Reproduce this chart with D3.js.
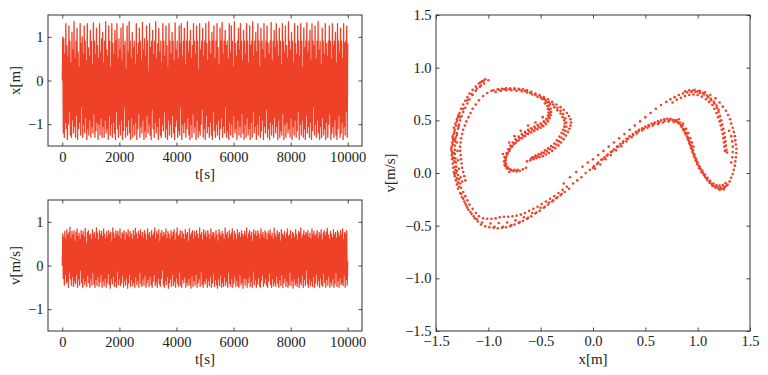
<!DOCTYPE html>
<html>
<head>
<meta charset="utf-8">
<script src="https://d3js.org/d3.v7.min.js"></script>
<style>
  body { margin: 0; background: #fff; }
  svg text { font-family: "Liberation Serif", "Times New Roman", serif; fill: #222; }
</style>
</head>
<body>
<svg id="chart" width="768" height="375"></svg>
<script>
// ---- data ----
const tMax = 10000;
const timeTicks = [0, 2000, 4000, 6000, 8000, 10000];
const seriesTicks = [-1, 0, 1];
const phaseTicks = [-1.5, -1.0, -0.5, 0.0, 0.5, 1.0, 1.5];

// displacement samples x(t)
const xSeries = [
  0, 1.0, -1.2, 0.95, -1.3, 0.6, -0.95, 1.3, -1.1, 0.8, -1.35, 0.55, -1.0, 1.25, -0.7, 0.9, -1.25, 0.4, -1.3, 1.1,
  -0.9, 0.7, -1.2, 1.35, -1.05, 0.5, -1.3, 0.9, -0.8, 1.2, -1.35, 0.65, -1.1, 0.3, -0.95, 1.3, -1.25, 0.85, -0.6, 1.0,
  -1.3, 0.6, -1.0, 1.25, -1.2, 0.9, -0.85, 0.45, -1.35, 1.3, -1.1, 0.75, -1.25, 0.55, -0.9, 1.15, -1.3, 0.9, -1.05, 0.35,
  -1.2, 1.32, -0.75, 0.9, -1.3, 0.6, -1.15, 1.2, -0.95, 0.8, -1.35, 0.5, -1.0, 1.3, -1.25, 0.65, -0.85, 0.95, -1.3, 1.1,
  -1.05, 0.4, -1.3, 0.9, -0.9, 1.35, -1.2, 0.7, -1.1, 0.55, -1.35, 1.25, -0.8, 0.9, -1.25, 0.3, -1.0, 1.3, -1.3, 0.85,
  -0.95, 0.6, -1.2, 1.15, -1.35, 0.9, -0.7, 1.3, -1.1, 0.5, -1.3, 0.95, -1.0, 0.7, -1.25, 1.2, -0.9, 0.45, -1.35, 1.3,
  -1.15, 0.8, -0.6, 0.9, -1.3, 0.25, -1.05, 1.25, -1.25, 0.65, -0.9, 1.35, -1.2, 0.9, -1.35, 0.5, -0.85, 1.1, -1.3, 0.75,
  -1.0, 0.9, -1.25, 0.35, -0.95, 1.3, -1.35, 0.6, -1.1, 0.85, -0.75, 1.2, -1.3, 0.9, -1.05, 0.45, -1.2, 1.33, -0.9, 0.7,
  -1.35, 0.95, -1.15, 0.55, -1.3, 1.25, -0.8, 0.9, -1.2, 0.2, -1.0, 1.3, -1.25, 0.75, -1.35, 0.9, -0.65, 1.15, -1.1, 0.6,
  -1.3, 0.9, -0.95, 1.35, -1.2, 0.5, -1.05, 0.85, -1.35, 1.2, -0.85, 0.65, -1.25, 0.9, -1.3, 0.4, -1.0, 1.3, -1.15, 0.9,
  -0.7, 0.55, -1.3, 1.25, -1.1, 0.8, -1.35, 0.3, -0.9, 1.3, -1.25, 0.9, -1.0, 0.6, -1.3, 1.1, -0.8, 0.9, -1.2, 0.45,
  -1.35, 1.32, -1.05, 0.7, -0.9, 0.9, -1.3, 0.5, -1.15, 1.25, -1.25, 0.85, -0.6, 1.3, -1.35, 0.55, -1.0, 0.9, -1.2, 1.2,
  -0.95, 0.35, -1.3, 0.9, -1.1, 1.35, -0.85, 0.65, -1.25, 0.9, -1.35, 1.15, -1.0, 0.5, -1.3, 0.8, -0.75, 1.3, -1.2, 0.9,
  -1.05, 0.6, -1.35, 1.25, -0.9, 0.9, -1.3, 0.25, -1.15, 1.3, -1.25, 0.7, -1.0, 0.9, -0.65, 1.2, -1.3, 0.55, -1.1, 0.9,
  -1.35, 1.3, -0.8, 0.85, -1.2, 0.45, -1.05, 1.35, -1.3, 0.9, -0.95, 0.6, -1.25, 1.1, -1.35, 0.9, -0.7, 1.25, -1.15, 0.5,
  -1.3, 0.9, -1.0, 1.3, -1.25, 0.75, -0.9, 0.35, -1.35, 1.2, -1.1, 0.9, -0.85, 1.33, -1.3, 0.6, -1.05, 0.9, -1.2, 1.15,
  -0.6, 0.8, -1.3, 0.9, -1.15, 0.5, -1.35, 1.3, -0.95, 0.65, -1.25, 1.25, -1.0, 0.9, -1.3, 0.3, -0.8, 1.35, -1.2, 0.85,
  -1.1, 0.55, -1.35, 0.9, -0.9, 1.2, -1.25, 0.7, -1.05, 1.3, -1.3, 0.9, -0.75, 0.45, -1.2, 1.15, -1.35, 0.9, -1.0, 0.6,
  -1.3, 1.3, -0.85, 0.9, -1.25, 0.4, -1.1, 1.25, -1.35, 0.8, -0.95, 0.9, -1.3, 1.35, -0.7, 0.55, -1.2, 0.9, -1.05, 1.1,
  -1.35, 0.65, -1.0, 1.3, -1.25, 0.9, -0.8, 0.3, -1.3, 1.2, -1.15, 0.9, -0.9, 0.7, -1.35, 1.3, -1.05, 0.5, -1.2, 0.9,
  -0.65, 1.25, -1.3, 0.85, -1.1, 0.6, -1.35, 0.9, -0.95, 1.33, -1.25, 0.45, -1.0, 0.9, -1.3, 1.15, -0.85, 0.75, -1.2, 1.3,
  -1.05, 0.9, -1.35, 0.55, -0.9, 1.2, -1.3, 0.9, -1.15, 0.35, -1.25, 1.3, -0.75, 0.9, -1.35, 0.65, -1.0, 1.25, -1.3, 0.8,
  -0.95, 0.5, -1.2, 1.35, -1.1, 0.9, -1.3, 0.7, -0.85, 1.1, -1.35, 0.9, -1.05, 0.4, -1.25, 1.3, -0.9, 0.85, -1.3, 0.6,
  -1.15, 1.25, -0.7, 0.9, -1.35, 0.55, -1.0, 1.3, -1.25, 0.9, -0.9, 0.3, -1.3, 1.2, -1.1, 0.75, -1.35, 0.9, -0.8, 1.32,
  -1.2, 0.65, -1.05, 0.9, -1.3, 1.15, -0.95, 0.45, -1.35, 1.3, -1.15, 0.9, -0.6, 0.8, -1.25, 1.25, -1.0, 0.5, -1.3, 0.9,
  -0.9, 1.35, -1.2, 0.7, -1.35, 0.9, -1.05, 0.35, -1.3, 1.2, -0.85, 0.9, -1.25, 0.6, -1.1, 1.3, -1.35, 0.85, -0.95, 0.55,
  -1.3, 0.9, -1.0, 1.25, -0.75, 0.9, -1.35, 0.5, -1.2, 1.3, -1.05, 0.8, -1.3, 0.9, -0.9, 1.1, -1.25, 0.4, -1.35, 1.3,
  -1.1, 0.9, -0.8, 0.65, -1.3, 1.2, -1.2, 0.9, -0.95, 0.5, -1.35, 1.3, -1.05, 0.85, -1.25, 0.9, -0.7, 1.25, -1.3, 0.85
];

// velocity samples v(t)
const vSeries = [
  0, 0.72, -0.3, 0.65, -0.45, 0.78, -0.2, 0.6, -0.4, 0.82, -0.35, 0.7, -0.5, 0.75, -0.15, 0.88, -0.3, 0.62, -0.45, 0.78,
  -0.25, 0.7, -0.48, 0.8, -0.35, 0.55, -0.42, 0.76, -0.2, 0.84, -0.5, 0.66, -0.3, 0.74, -0.45, 0.6, -0.1, 0.8, -0.4, 0.7,
  -0.5, 0.78, -0.28, 0.65, -0.44, 0.85, -0.35, 0.5, -0.48, 0.75, -0.22, 0.8, -0.4, 0.68, -0.5, 0.72, -0.3, 0.6, -0.45, 0.82,
  -0.15, 0.7, -0.42, 0.76, -0.5, 0.62, -0.32, 0.86, -0.45, 0.74, -0.25, 0.58, -0.48, 0.8, -0.38, 0.7, -0.2, 0.78, -0.5, 0.66,
  -0.35, 0.84, -0.46, 0.72, -0.28, 0.6, -0.5, 0.78, -0.4, 0.65, -0.18, 0.8, -0.44, 0.7, -0.52, 0.76, -0.3, 0.55, -0.42, 0.86,
  -0.25, 0.74, -0.48, 0.62, -0.36, 0.8, -0.5, 0.7, -0.12, 0.78, -0.44, 0.66, -0.3, 0.84, -0.46, 0.6, -0.4, 0.75, -0.22, 0.72,
  -0.5, 0.8, -0.34, 0.58, -0.45, 0.76, -0.28, 0.7, -0.52, 0.82, -0.4, 0.64, -0.2, 0.78, -0.48, 0.72, -0.32, 0.6, -0.46, 0.8,
  -0.38, 0.68, -0.5, 0.85, -0.26, 0.74, -0.44, 0.6, -0.35, 0.78, -0.5, 0.7, -0.15, 0.82, -0.42, 0.66, -0.48, 0.76, -0.3, 0.62,
  -0.45, 0.8, -0.22, 0.72, -0.5, 0.58, -0.4, 0.84, -0.32, 0.7, -0.48, 0.76, -0.25, 0.64, -0.44, 0.8, -0.5, 0.68, -0.36, 0.74,
  -0.2, 0.86, -0.46, 0.6, -0.38, 0.78, -0.5, 0.7, -0.28, 0.82, -0.42, 0.55, -0.48, 0.74, -0.3, 0.8, -0.1, 0.66, -0.45, 0.76,
  -0.5, 0.7, -0.34, 0.84, -0.44, 0.62, -0.25, 0.78, -0.52, 0.72, -0.4, 0.6, -0.3, 0.8, -0.48, 0.68, -0.2, 0.76, -0.46, 0.82,
  -0.36, 0.58, -0.5, 0.74, -0.28, 0.86, -0.42, 0.66, -0.48, 0.7, -0.15, 0.8, -0.45, 0.62, -0.5, 0.78, -0.32, 0.72, -0.4, 0.6,
  -0.26, 0.82, -0.5, 0.7, -0.38, 0.76, -0.46, 0.55, -0.3, 0.84, -0.44, 0.68, -0.52, 0.74, -0.22, 0.8, -0.48, 0.6, -0.35, 0.78,
  -0.45, 0.66, -0.2, 0.8, -0.5, 0.72, -0.4, 0.62, -0.3, 0.86, -0.48, 0.7, -0.12, 0.76, -0.44, 0.58, -0.5, 0.82, -0.36, 0.7,
  -0.42, 0.78, -0.28, 0.64, -0.5, 0.8, -0.34, 0.72, -0.46, 0.6, -0.25, 0.84, -0.5, 0.68, -0.4, 0.76, -0.18, 0.74, -0.48, 0.62,
  -0.32, 0.8, -0.44, 0.7, -0.52, 0.56, -0.3, 0.82, -0.46, 0.74, -0.22, 0.66, -0.5, 0.78, -0.38, 0.72, -0.48, 0.6, -0.26, 0.86,
  -0.45, 0.7, -0.36, 0.76, -0.5, 0.62, -0.15, 0.8, -0.42, 0.68, -0.48, 0.74, -0.3, 0.84, -0.5, 0.58, -0.4, 0.78, -0.24, 0.72,
  -0.48, 0.6, -0.34, 0.82, -0.46, 0.7, -0.5, 0.76, -0.2, 0.64, -0.44, 0.8, -0.38, 0.72, -0.52, 0.66, -0.28, 0.78, -0.45, 0.7,
  -0.3, 0.86, -0.5, 0.62, -0.4, 0.74, -0.25, 0.8, -0.48, 0.68, -0.36, 0.76, -0.5, 0.55, -0.12, 0.82, -0.44, 0.7, -0.32, 0.78,
  -0.5, 0.66, -0.42, 0.8, -0.28, 0.72, -0.46, 0.6, -0.5, 0.84, -0.34, 0.7, -0.22, 0.76, -0.48, 0.62, -0.4, 0.8, -0.3, 0.74,
  -0.45, 0.58, -0.5, 0.78, -0.35, 0.7, -0.18, 0.82, -0.44, 0.66, -0.5, 0.74, -0.3, 0.6, -0.46, 0.86, -0.38, 0.72, -0.48, 0.64,
  -0.25, 0.8, -0.42, 0.7, -0.5, 0.76, -0.32, 0.56, -0.46, 0.82, -0.2, 0.72, -0.5, 0.68, -0.4, 0.78, -0.28, 0.62, -0.48, 0.74,
  -0.36, 0.84, -0.5, 0.66, -0.44, 0.7, -0.15, 0.8, -0.46, 0.6, -0.34, 0.76, -0.52, 0.72, -0.3, 0.64, -0.45, 0.82, -0.4, 0.7,
  -0.48, 0.58, -0.26, 0.78, -0.5, 0.74, -0.38, 0.86, -0.44, 0.62, -0.22, 0.7, -0.5, 0.8, -0.32, 0.68, -0.46, 0.76, -0.1, 0.72,
  -0.42, 0.8, -0.5, 0.64, -0.3, 0.74, -0.46, 0.6, -0.36, 0.84, -0.48, 0.7, -0.25, 0.78, -0.5, 0.66, -0.4, 0.72, -0.2, 0.8,
  -0.46, 0.62, -0.34, 0.76, -0.5, 0.7, -0.28, 0.82, -0.44, 0.58, -0.48, 0.74, -0.18, 0.8, -0.4, 0.68, -0.5, 0.76, -0.32, 0.85,
  -0.45, 0.7, -0.24, 0.6, -0.5, 0.78, -0.38, 0.72, -0.46, 0.64, -0.3, 0.82, -0.5, 0.7, -0.42, 0.76, -0.15, 0.62, -0.48, 0.8,
  -0.35, 0.74, -0.5, 0.66, -0.28, 0.8, -0.44, 0.7, -0.4, 0.84, -0.46, 0.6, -0.22, 0.76, -0.5, 0.72, -0.32, 0.8, -0.45, 0.1
];

// phase portrait points [x, v], grouped by region of the attractor
const leftLobe = [
  [-1.03,0.89],[-1.06,0.87],[-1.09,0.85],[-1.12,0.82],[-1.15,0.79],[-1.18,0.755],[-1.20,0.72],[-1.22,0.685],[-1.24,0.65],[-1.26,0.61],
  [-1.275,0.57],[-1.29,0.53],[-1.30,0.49],[-1.31,0.45],[-1.32,0.41],[-1.33,0.37],[-1.34,0.33],[-1.345,0.29],[-1.35,0.25],[-1.35,0.21],
  [-1.35,0.17],[-1.345,0.13],[-1.34,0.09],[-1.335,0.05],[-1.33,0.01],[-1.32,-0.03],[-1.31,-0.07],[-1.30,-0.11],
  [-1.04,0.85],[-1.08,0.82],[-1.12,0.78],[-1.15,0.74],[-1.18,0.70],[-1.20,0.66],[-1.22,0.62],[-1.24,0.58],[-1.255,0.54],[-1.27,0.50],
  [-1.28,0.46],[-1.29,0.42],[-1.30,0.38],[-1.31,0.34],[-1.315,0.30],[-1.32,0.26],[-1.32,0.22],[-1.32,0.18],[-1.315,0.14],[-1.31,0.10],
  [-1.305,0.06],[-1.30,0.02],[-1.29,-0.02],[-1.28,-0.06],[-1.27,-0.10],[-1.26,-0.14],
  [-0.97,0.78],[-1.01,0.76],[-1.05,0.73],[-1.09,0.69],[-1.12,0.65],[-1.15,0.61],[-1.17,0.57],[-1.19,0.53],[-1.21,0.49],[-1.225,0.45],
  [-1.24,0.41],[-1.25,0.37],[-1.26,0.33],[-1.265,0.29],[-1.27,0.25],[-1.27,0.21],[-1.265,0.17],[-1.26,0.13],[-1.255,0.09],[-1.25,0.05],
  [-1.24,0.01],[-1.23,-0.03],[-1.22,-0.07],
  [-1.33,0.43],[-1.34,0.27],[-1.33,0.19],[-1.325,0.11],[-1.34,0.35],[-1.32,0.06],[-1.31,0.0],
  [-1.355,0.23],[-1.345,0.19],[-1.34,0.15],[-1.335,0.31],[-1.325,0.39],[-1.315,0.47],[-1.30,0.51],[-1.285,0.55],[-1.325,-0.01],[-1.315,0.03],
  [-1.30,-0.05],[-1.29,-0.09],[-1.28,-0.13],[-1.33,0.14],[-1.32,0.32],[-1.30,0.29],[-1.295,0.21],[-1.29,0.12],[-1.28,0.04],[-1.265,-0.04],
  [-1.25,-0.08],[-1.30,0.36],[-1.285,0.44],[-1.27,0.53],[-1.24,0.61],[-1.20,0.69],[-1.16,0.75],[-1.11,0.80],[-1.07,0.83],
  [-1.0,0.88],[-1.045,0.875],[-1.075,0.86]
];

const bottomArc = [
  [-1.29,-0.15],[-1.27,-0.19],[-1.25,-0.23],[-1.23,-0.27],[-1.21,-0.31],[-1.19,-0.35],[-1.16,-0.39],[-1.13,-0.43],[-1.10,-0.46],[-1.07,-0.49],
  [-1.03,-0.505],[-0.99,-0.515],[-0.95,-0.52],[-0.91,-0.525],[-0.87,-0.52],[-0.83,-0.515],[-0.79,-0.505],[-0.75,-0.49],[-0.71,-0.475],[-0.67,-0.455],
  [-0.63,-0.435],[-0.59,-0.41],[-0.55,-0.385],[-0.51,-0.36],[-0.47,-0.33],[-0.43,-0.30],[-0.39,-0.27],[-0.35,-0.24],[-0.31,-0.21],[-0.27,-0.18],[-0.23,-0.15],
  [-1.24,-0.18],[-1.22,-0.22],[-1.20,-0.26],[-1.18,-0.30],[-1.15,-0.34],[-1.12,-0.38],[-1.09,-0.41],[-1.05,-0.43],[-1.01,-0.435],[-0.97,-0.435],
  [-0.93,-0.43],[-0.89,-0.42],[-0.85,-0.415],[-0.81,-0.415],[-0.77,-0.41],[-0.73,-0.405],[-0.69,-0.395],[-0.65,-0.38],[-0.61,-0.36],[-0.57,-0.34],
  [-0.53,-0.32],[-0.49,-0.295],[-0.45,-0.27],[-0.41,-0.245],[-0.37,-0.22],[-0.33,-0.19],[-0.29,-0.16],[-0.25,-0.13],
  [-1.06,-0.47],[-0.98,-0.48],[-0.90,-0.475],[-0.82,-0.47],[-0.74,-0.45],[-0.66,-0.42],[-0.58,-0.38],[-0.50,-0.33],[-0.42,-0.28],[-0.34,-0.23],
  [-1.26,-0.20],[-1.24,-0.245],[-1.22,-0.29],[-1.20,-0.33],[-1.17,-0.37],[-1.14,-0.41],[-1.11,-0.44],[-0.94,-0.51],[-0.86,-0.51],[-0.78,-0.495],
  [-0.70,-0.465],[-0.62,-0.425],[-0.54,-0.375],[-0.46,-0.32],[-0.38,-0.26],[-0.30,-0.20]
];

const diagonal = [
  [-0.19,-0.10],[-0.15,-0.07],[-0.11,-0.04],[-0.07,0.0],[-0.03,0.03],[0.01,0.065],[0.05,0.10],[0.08,0.125],[0.11,0.15],[0.14,0.175],
  [0.17,0.20],[0.20,0.225],[0.23,0.25],[0.26,0.275],[0.29,0.30],[0.32,0.325],[0.35,0.35],[0.38,0.37],[0.41,0.39],[0.44,0.41],
  [0.47,0.425],[0.50,0.44],[0.53,0.455],[0.56,0.47],[0.59,0.48],[0.62,0.49],[0.65,0.50],[0.68,0.51],[0.71,0.515],[0.74,0.515],
  [0.02,0.04],[0.07,0.08],[0.12,0.13],[0.17,0.17],[0.22,0.215],[0.27,0.255],[0.32,0.30],[0.37,0.34],[0.42,0.375],[0.47,0.405],
  [0.52,0.43],[0.57,0.45],[0.62,0.465],[0.67,0.48],[0.72,0.49],[0.77,0.485],
  [0.0,0.05],[0.04,0.085],[0.09,0.13],[0.135,0.165],[0.185,0.205],[0.24,0.25],[0.285,0.285],[0.335,0.325],[0.385,0.36],[0.435,0.395],
  [0.485,0.42],[0.535,0.445],[0.585,0.465],[0.635,0.48],[0.685,0.495],[0.73,0.50],[0.76,0.505],
  [-0.28,-0.10],[-0.22,-0.04],[-0.16,0.01],[-0.10,0.06],[-0.05,0.10],[0.0,0.13],[0.05,0.17],[0.10,0.21],[0.15,0.25],[0.20,0.29],
  [0.25,0.33],[0.30,0.37],[0.35,0.41],[0.40,0.45],[0.45,0.49],[0.50,0.53],[0.55,0.57],[0.60,0.61],[0.65,0.645],[0.70,0.675]
];

const rightLobe = [
  [0.78,0.50],[0.81,0.48],[0.84,0.455],[0.86,0.42],[0.88,0.385],[0.90,0.345],[0.915,0.305],[0.93,0.265],[0.945,0.225],[0.96,0.185],
  [0.975,0.145],[0.99,0.11],[1.01,0.07],[1.03,0.035],[1.05,0.0],[1.07,-0.035],[1.09,-0.065],[1.115,-0.095],[1.14,-0.12],[1.17,-0.14],
  [1.20,-0.15],[1.23,-0.15],[1.26,-0.135],[1.285,-0.11],[1.305,-0.08],[1.32,-0.045],[1.335,-0.01],[1.345,0.03],[1.355,0.07],[1.36,0.11],
  [1.365,0.15],[1.37,0.19],[1.37,0.23],[1.365,0.27],[1.36,0.31],[1.355,0.35],[1.345,0.39],[1.335,0.43],
  [0.80,0.50],[0.83,0.48],[0.855,0.45],[0.875,0.415],[0.895,0.375],[0.91,0.335],[0.925,0.295],[0.94,0.255],[0.955,0.215],[0.97,0.175],
  [0.985,0.135],[1.0,0.10],[1.02,0.06],[1.045,0.02],[1.07,-0.015],[1.095,-0.045],[1.12,-0.075],[1.15,-0.10],[1.18,-0.115],[1.21,-0.12],
  [1.24,-0.115],[1.265,-0.095],
  [0.82,0.51],[0.86,0.47],[0.89,0.42],[0.91,0.38],[0.93,0.33],[0.945,0.29],[0.96,0.25],
  [0.79,0.49],[0.82,0.47],[0.845,0.44],[0.865,0.405],[0.885,0.365],[0.905,0.32],[0.92,0.28],[0.935,0.24],[0.95,0.20],[0.965,0.16],
  [0.98,0.12],[0.995,0.085],[1.015,0.045],[1.035,0.01],[1.06,-0.02],[1.085,-0.05],[1.11,-0.08],[1.135,-0.105],[1.16,-0.125],[1.19,-0.135],
  [1.22,-0.14],[1.25,-0.13],[1.275,-0.12],[1.25,-0.155],[1.21,-0.16],
  [0.74,0.70],[0.78,0.72],[0.82,0.74],[0.86,0.755],[0.90,0.765],[0.94,0.77],[0.98,0.77],[1.02,0.76],[1.06,0.745],[1.10,0.72],
  [1.13,0.69],[1.16,0.66],[1.185,0.62],[1.20,0.58],[1.215,0.54],[1.225,0.50],[1.235,0.46],[1.245,0.42],[1.255,0.38],[1.26,0.34],
  [1.265,0.30],[1.27,0.26],[1.275,0.22],[1.28,0.195],
  [0.76,0.67],[0.80,0.695],[0.84,0.715],[0.88,0.73],[0.92,0.74],[0.96,0.745],[1.00,0.74],[1.04,0.725],[1.08,0.70],[1.11,0.675],
  [1.14,0.645],[1.16,0.61],[1.18,0.57],[1.195,0.53],[1.21,0.49],[1.22,0.45],[1.23,0.41],[1.24,0.37],[1.245,0.33],[1.25,0.29],
  [1.255,0.25],[1.26,0.21],
  [0.92,0.785],[0.97,0.79],[1.02,0.78],[1.07,0.765],[1.12,0.74],[1.17,0.71],[1.21,0.67],[1.24,0.63],[1.27,0.59],[1.29,0.55],
  [1.31,0.51],[1.32,0.47],
  [0.88,0.775],[0.95,0.78],[1.0,0.775],[1.05,0.76],[1.09,0.735],[1.125,0.705],[1.155,0.675],[1.18,0.64],[1.20,0.60],[1.30,0.40],
  [1.32,0.35],[1.33,0.30],[1.335,0.25],[1.335,0.20],[1.33,0.15],[1.32,0.10]
];

const topArc = [
  [-0.95,0.785],[-0.91,0.795],[-0.87,0.80],[-0.83,0.805],[-0.79,0.805],[-0.75,0.805],[-0.71,0.80],[-0.67,0.795],[-0.63,0.785],[-0.59,0.77],
  [-0.55,0.755],[-0.51,0.74],[-0.47,0.72],[-0.43,0.70],[-0.39,0.675],[-0.35,0.65],[-0.31,0.625],[-0.28,0.60],[-0.25,0.57],[-0.23,0.54],
  [-0.215,0.51],[-0.21,0.48],[-0.215,0.45],[-0.225,0.42],[-0.24,0.39],[-0.26,0.355],[-0.28,0.32],[-0.305,0.29],[-0.33,0.26],[-0.36,0.235],
  [-0.39,0.21],[-0.42,0.19],[-0.45,0.175],[-0.48,0.16],[-0.51,0.15],[-0.54,0.14],[-0.57,0.13],[-0.60,0.12],[-0.63,0.11],
  [-0.93,0.77],[-0.88,0.78],[-0.83,0.785],[-0.78,0.785],[-0.73,0.78],[-0.68,0.775],[-0.63,0.765],[-0.58,0.745],[-0.53,0.725],[-0.49,0.705],
  [-0.45,0.68],[-0.41,0.655],[-0.37,0.625],[-0.34,0.595],[-0.31,0.565],[-0.29,0.53],[-0.275,0.50],[-0.27,0.47],[-0.275,0.44],[-0.285,0.41],
  [-0.30,0.38],[-0.32,0.345],[-0.345,0.31],[-0.37,0.28],[-0.40,0.255],[-0.43,0.235],[-0.46,0.215],[-0.49,0.195],[-0.52,0.18],[-0.55,0.165],[-0.58,0.15],
  [-0.90,0.79],[-0.85,0.795],[-0.80,0.795],[-0.75,0.795],[-0.70,0.79],[-0.65,0.78],[-0.60,0.76],[-0.55,0.74],[-0.50,0.72],[-0.46,0.70],
  [-0.42,0.675],[-0.38,0.65],[-0.34,0.62],[-0.31,0.59],[-0.285,0.56],[-0.265,0.52],[-0.255,0.48],[-0.255,0.44],[-0.265,0.40],[-0.28,0.37],
  [-0.30,0.335],[-0.325,0.30],[-0.35,0.27],[-0.38,0.245],[-0.41,0.225],[-0.44,0.205],[-0.47,0.19],[-0.50,0.175],[-0.53,0.16],[-0.56,0.15],[-0.59,0.14]
];

const innerHook = [
  [-0.47,0.70],[-0.44,0.67],[-0.42,0.64],[-0.405,0.61],[-0.40,0.58],[-0.405,0.55],[-0.415,0.52],[-0.43,0.49],[-0.45,0.465],[-0.475,0.445],
  [-0.50,0.43],[-0.53,0.415],[-0.56,0.40],[-0.59,0.385],[-0.62,0.37],[-0.65,0.35],[-0.68,0.33],[-0.71,0.31],[-0.74,0.285],[-0.77,0.255],
  [-0.795,0.225],[-0.815,0.19],[-0.83,0.155],[-0.835,0.12],[-0.83,0.085],[-0.815,0.055],[-0.79,0.035],[-0.76,0.02],[-0.73,0.015],[-0.70,0.02],
  [-0.43,0.61],[-0.425,0.575],[-0.43,0.545],[-0.445,0.515],[-0.47,0.49],[-0.50,0.47],[-0.53,0.455],[-0.56,0.44],[-0.59,0.425],[-0.62,0.41],
  [-0.65,0.39],[-0.68,0.37],[-0.71,0.345],[-0.74,0.32],[-0.765,0.29],[-0.79,0.26],[-0.81,0.225],[-0.825,0.19],[-0.845,0.15],[-0.85,0.11],
  [-0.845,0.075],[-0.825,0.045],
  [-0.48,0.53],[-0.55,0.48],[-0.62,0.45],[-0.69,0.40],[-0.75,0.35],[-0.80,0.29],[-0.86,0.18],[-0.80,0.01],[-0.67,0.035],[-0.64,0.05],
  [-0.46,0.66],[-0.435,0.635],[-0.42,0.60],[-0.415,0.565],[-0.42,0.535],[-0.44,0.505],[-0.46,0.48],[-0.49,0.455],[-0.52,0.44],[-0.55,0.425],
  [-0.58,0.41],[-0.61,0.395],[-0.64,0.375],[-0.67,0.355],[-0.70,0.33],[-0.73,0.305],[-0.755,0.275],[-0.78,0.245],[-0.80,0.21],[-0.82,0.175],
  [-0.835,0.14],[-0.84,0.10],[-0.835,0.065],[-0.81,0.04],[-0.78,0.025],[-0.75,0.03],[-0.72,0.03]
];

// ---- drawing ----
const red = "#ee4127";
const svg = d3.select("#chart");

function frame(g, x, y, xt, yt, xf, yf, labelDy) {
  const w = x.range()[1] - x.range()[0];
  const h = y.range()[0] - y.range()[1];
  const tick = 3.5;

  g.append("g").attr("transform", `translate(0,${h})`)
    .call(d3.axisBottom(x).tickValues(xt).tickFormat(xf).tickSizeInner(-tick).tickSizeOuter(0).tickPadding(labelDy));
  g.append("g")
    .call(d3.axisLeft(y).tickValues(yt).tickFormat(yf).tickSizeInner(-tick).tickSizeOuter(0).tickPadding(4.5));
  g.append("g")
    .call(d3.axisTop(x).tickValues(xt).tickFormat("").tickSizeInner(-tick).tickSizeOuter(0));
  g.append("g").attr("transform", `translate(${w},0)`)
    .call(d3.axisRight(y).tickValues(yt).tickFormat("").tickSizeInner(-tick).tickSizeOuter(0));

  g.selectAll(".domain").remove();
  g.selectAll(".tick line").attr("stroke", "#333").attr("stroke-width", 0.9);
  g.selectAll(".tick text").attr("font-size", 14.5)
    .attr("font-family", "'Liberation Serif', 'Times New Roman', serif").attr("fill", "#222");

  g.append("rect").attr("width", w).attr("height", h)
    .attr("fill", "none").attr("stroke", "#333").attr("stroke-width", 1);
}

function timePanel(top, values, label) {
  const x = d3.scaleLinear().domain([-500, 10500]).range([0, 314]);
  const y = d3.scaleLinear().domain([-1.5, 1.5]).range([131, 0]);
  const step = tMax / (values.length - 1);

  const g = svg.append("g").attr("transform", `translate(48,${top})`);
  g.append("path")
    .datum(values)
    .attr("fill", "none")
    .attr("stroke", red)
    .attr("stroke-width", 1.3)
    .attr("stroke-linejoin", "round")
    .attr("d", d3.line().x((d, i) => x(i * step)).y(d => y(d)));

  frame(g, x, y, timeTicks, seriesTicks, d3.format("d"), d3.format("d"), 5.5);

  g.append("text").attr("x", 157).attr("y", 131 + 32.5)
    .attr("text-anchor", "middle").attr("font-size", 15).text("t[s]");
  g.append("text").attr("transform", "translate(-28.5,65.5) rotate(-90)")
    .attr("text-anchor", "middle").attr("font-size", 15).text(label);
}

timePanel(15, xSeries, "x[m]");
timePanel(200, vSeries, "v[m/s]");

// phase portrait
const px = d3.scaleLinear().domain([-1.5, 1.5]).range([0, 314]);
const py = d3.scaleLinear().domain([-1.5, 1.5]).range([316, 0]);
const pg = svg.append("g").attr("transform", "translate(436,15)");

const points = [].concat(leftLobe, bottomArc, diagonal, rightLobe, topArc, innerHook);
pg.selectAll("circle")
  .data(points)
  .enter()
  .append("circle")
    .attr("cx", d => px(d[0]))
    .attr("cy", d => py(d[1]))
    .attr("r", 1.3)
    .attr("fill", red);

frame(pg, px, py, phaseTicks, phaseTicks, d3.format(".1f"), d3.format(".1f"), 4.5);

pg.append("text").attr("x", 157).attr("y", 316 + 32.5)
  .attr("text-anchor", "middle").attr("font-size", 15).text("x[m]");
pg.append("text").attr("transform", "translate(-41,158) rotate(-90)")
  .attr("text-anchor", "middle").attr("font-size", 15).text("v[m/s]");
</script>
</body>
</html>
